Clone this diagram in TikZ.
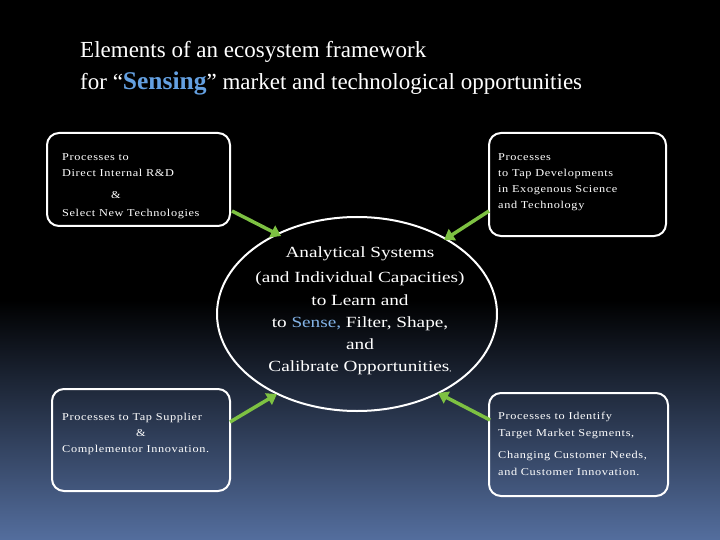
\documentclass[tikz,border=0pt]{standalone}
\usepackage{fontspec}
\setmainfont{Liberation Serif}
\newfontfamily\titlefont{Liberation Serif}
\newfontfamily\boxfont[LetterSpace=6,FakeStretch=1.17]{Liberation Serif}
\newfontfamily\ellfont[FakeStretch=1.24]{Liberation Serif}
\usetikzlibrary{arrows.meta,shapes.geometric}
\definecolor{arrowgreen}{RGB}{125,193,66}
\definecolor{sensblue}{RGB}{100,160,225}
\definecolor{bgbottom}{RGB}{84,110,158}
\tikzset{
  procbox/.style={draw=white, line width=2pt, rounded corners=12pt, fill=none},
  boxtext/.style={text=white, font=\boxfont\fontsize{10.5}{12}\selectfont, anchor=base west, inner sep=0pt},
  elltext/.style={text=white, font=\ellfont\fontsize{15.5}{18}\selectfont, anchor=base, inner sep=0pt},
  garrow/.style={draw=arrowgreen, line width=3.5pt, -{Triangle[length=10pt,width=13pt]}},
}
\begin{document}
\begin{tikzpicture}[x=1pt,y=-1pt]
\useasboundingbox (0,0) rectangle (720,540);
\fill[black] (0,0) rectangle (720,540);
\shade[top color=black, bottom color=bgbottom] (0,300) rectangle (720,540.5);
% title
\node[anchor=base west, text=white, inner sep=0pt, font=\titlefont\fontsize{23}{26}\selectfont] (t1) at (80,58) {Elements of an ecosystem framework};
\node[anchor=base west, text=white, inner sep=0pt, font=\titlefont\fontsize{23}{26}\selectfont] (t2) at (80,90) {for “\textcolor{sensblue}{\fontsize{25.5}{26}\selectfont\textbf{Sensing}}” market and technological opportunities};
% boxes
\draw[procbox] (47,133) rectangle (230,226);
\draw[procbox] (489,133) rectangle (666,236);
\draw[procbox] (52,389) rectangle (230,491);
\draw[procbox] (489,393) rectangle (668,496);
\coordinate (tl) at (232,211);
\coordinate (tr) at (489,211);
\coordinate (bl) at (230,422);
\coordinate (br) at (490,420);
% ellipse
\node[draw=white, line width=2pt, ellipse, minimum width=280pt, minimum height=194pt] (e) at (357,314) {};
% ellipse text
\node[elltext] (e1) at (360,258) {Analytical Systems};
\node[elltext] (e2) at (360,282) {(and Individual Capacities)};
\node[elltext] (e3) at (360,305) {to Learn and};
\node[elltext] (e4) at (360,327) {to \textcolor{sensblue!80!white}{Sense,} Filter, Shape,};
\node[elltext] (e5) at (360,349) {and};
\node[elltext] (e6) at (360,371) {Calibrate Opportunities{\fontsize{7}{7}\selectfont ,}};
% box texts
\node[boxtext] (a1) at (62,161) {Processes to};
\node[boxtext] (a2) at (62,177) {Direct Internal R\&D};
\node[boxtext] (a3) at (111,199) {\&};
\node[boxtext] (a4) at (62,216) {Select New Technologies};
\node[boxtext] (b1) at (498,161) {Processes};
\node[boxtext] (b2) at (498,177) {to Tap Developments};
\node[boxtext] (b3) at (498,193) {in Exogenous Science};
\node[boxtext] (b4) at (498,209) {and Technology};
\node[boxtext] (c1) at (62,420) {Processes to Tap Supplier};
\node[boxtext] (c2) at (136,436) {\&};
\node[boxtext] (c3) at (62,452) {Complementor Innovation.};
\node[boxtext] (d1) at (498,419) {Processes to Identify};
\node[boxtext] (d2) at (498,436) {Target Market Segments,};
\node[boxtext] (d3) at (498,458) {Changing Customer Needs,};
\node[boxtext] (d4) at (498,475) {and Customer Innovation.};
% arrows
\coordinate (etl) at (281,236);
\coordinate (etr) at (444,240);
\coordinate (ebl) at (277,394);
\coordinate (ebr) at (438,393);
\draw[garrow] (tl) -- (etl);
\draw[garrow] (tr) -- (etr);
\draw[garrow] (bl) -- (ebl);
\draw[garrow] (br) -- (ebr);
\end{tikzpicture}
\end{document}
